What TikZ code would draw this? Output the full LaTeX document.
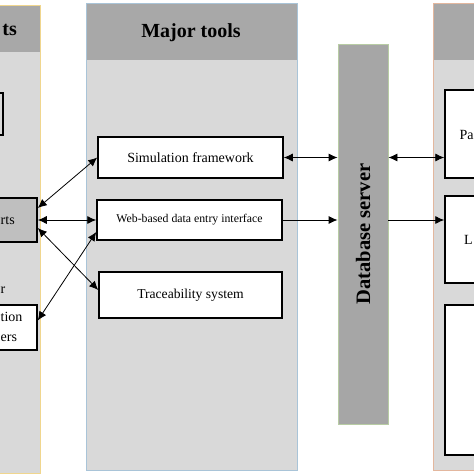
\documentclass[tikz,border=0pt]{standalone}
\usepackage{fontspec}
\setmainfont{Liberation Serif}
\usetikzlibrary{arrows.meta}
\definecolor{bodygray}{HTML}{D9D9D9}
\definecolor{headgray}{HTML}{A8A8A8}
\definecolor{dbgray}{HTML}{A6A6A6}
\definecolor{dbedge}{HTML}{B8CCA4}
\definecolor{leftedge}{HTML}{F0D68E}
\definecolor{midedge}{HTML}{A9C4D8}
\definecolor{rightedge}{HTML}{E3B79E}
\definecolor{rolegray}{HTML}{BFBFBF}
\begin{document}
\begin{tikzpicture}[x=1pt,y=-1pt,>={Latex[length=9pt,width=8pt]},
    tool/.style={draw,fill=white,line width=1.5pt,inner sep=0pt},
    frag/.style={inner sep=0pt},
    link/.style={<->,line width=0.8pt},
    push/.style={->,line width=0.8pt}]
    \useasboundingbox (0,0) rectangle (474,474);
    \clip (0,0) rectangle (474,474);
    \fill[white] (0,0) rectangle (474,474);

    % three columns
    \fill[bodygray] (-200,5) rectangle (40,473);
    \fill[headgray] (-200,5) rectangle (40,52);
    \draw[leftedge,line width=1pt] (-200,5) rectangle (40,473);
    \fill[bodygray] (86,3) rectangle (297,470);
    \fill[headgray] (86,3) rectangle (297,60);
    \draw[midedge,line width=1pt] (86,3) rectangle (297,470);
    \fill[bodygray] (433,3) rectangle (700,470);
    \fill[headgray] (433,3) rectangle (700,60);
    \draw[rightedge,line width=1pt] (433,3) rectangle (700,470);

    \node[frag,anchor=east,font=\fontsize{20}{22}\selectfont\bfseries] at (17,30) {ts};
    \node[frag,font=\fontsize{20}{22}\selectfont\bfseries] at (191,33) {Major tools};

    % left column
    \node[draw,line width=1.5pt,minimum width=80,minimum height=42] (first) at (-37,114) {};
    \node[tool,fill=rolegray,minimum width=114,minimum height=44] (roles) at (-20,220) {};
    \node[frag,anchor=west,font=\fontsize{14}{16}\selectfont] at (0.5,221) {rts};
    \node[frag,anchor=west,font=\fontsize{14}{16}\selectfont] at (0.5,290) {r};
    \node[tool,minimum width=114,minimum height=45] (users) at (-20,327.5) {};
    \node[frag,anchor=west,font=\fontsize{14}{16}\selectfont] at (0.5,317) {tion};
    \node[frag,anchor=west,font=\fontsize{14}{16}\selectfont] at (0.5,338) {ers};

    % major tools
    \node[tool,minimum width=185,minimum height=41,font=\fontsize{14}{16}\selectfont] (sim) at (190.5,157.5) {Simulation framework};
    \node[tool,minimum width=185,minimum height=40,font=\fontsize{11.8}{14}\selectfont] (web) at (189.5,220) {Web-based data entry interface};
    \node[tool,minimum width=183,minimum height=46,font=\fontsize{13.6}{16}\selectfont] (trace) at (190.5,295) {Traceability system};

    % database
    \node[fill=dbgray,draw=dbedge,line width=0.8pt,minimum width=50,minimum height=380,inner sep=0pt] (db) at (363,234) {};
    \node[frag,rotate=90,font=\fontsize{20.5}{22}\selectfont\bfseries] at (db.center) {Database server};

    % right column
    \node[tool,minimum width=100,minimum height=88] (params) at (495,134) {};
    \node[frag,anchor=west,font=\fontsize{14}{16}\selectfont] at (459.5,135) {Pa};
    \node[tool,minimum width=100,minimum height=87] (logs) at (495,239.5) {};
    \node[frag,anchor=west,font=\fontsize{14}{16}\selectfont] at (464,240) {L};
    \node[tool,minimum width=100,minimum height=150] (report) at (495,380) {};

    % connectors
    \draw[link] ([yshift=12]roles.east) -- (sim.west);
    \draw[link] (roles.east) -- (web.west);
    \draw[link] ([yshift=-8]roles.east) -- ([yshift=5]trace.west);
    \draw[link] ([yshift=7]users.east) -- ([yshift=-12]web.west);
    \draw[link] (sim.east) -- (sim.east -| db.west);
    \draw[push] (web.east) -- (web.east -| db.west);
    \draw[link] (db.east |- sim.east) -- (params.west |- sim.east);
    \draw[push] (db.east |- web.east) -- (logs.west |- web.east);
\end{tikzpicture}
\end{document}
